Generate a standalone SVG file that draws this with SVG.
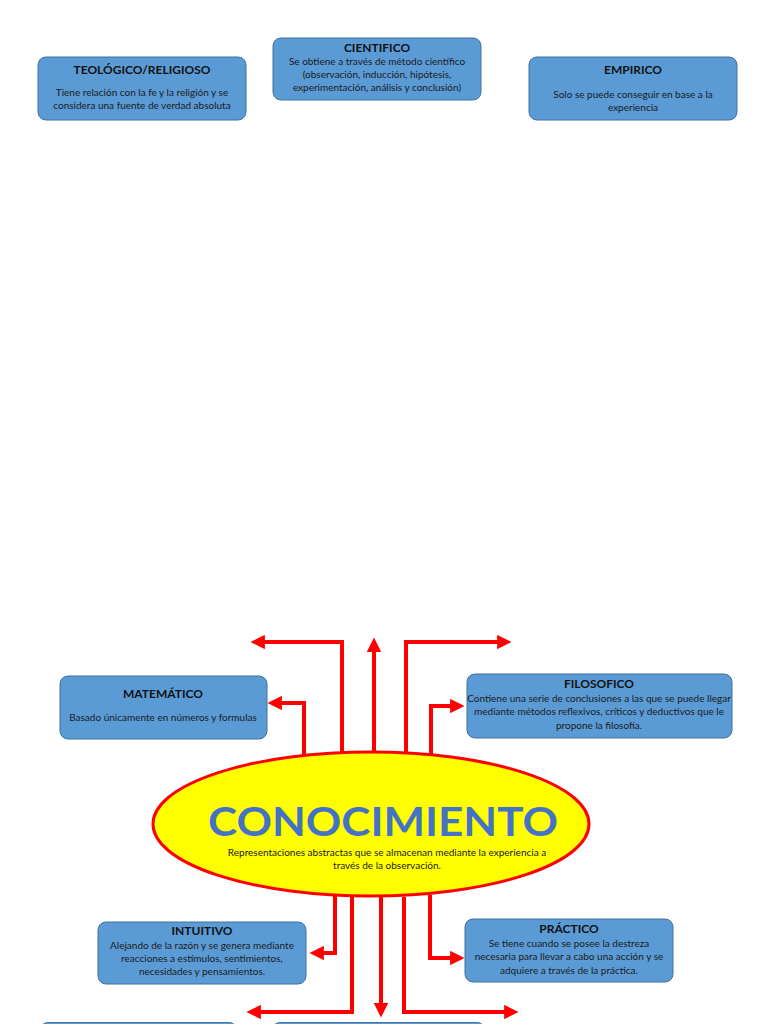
<svg xmlns="http://www.w3.org/2000/svg" width="768" height="1024" viewBox="0 0 768 1024">
<style>
.box{fill:#5b9bd5;stroke:#41719c;stroke-width:1}
.t{font-family:Lato,"Open Sans","Liberation Sans",sans-serif;font-weight:bold;font-size:12px;fill:#111;text-anchor:middle}
.b{font-family:Lato,"Open Sans","Liberation Sans",sans-serif;font-size:10px;fill:#1a1a1a;text-anchor:middle}
.c{fill:none;stroke:#ff0000;stroke-width:4;stroke-linejoin:miter}
</style>
<defs>
<marker id="ah" viewBox="0 0 10 10" refX="2" refY="5" markerWidth="3.6" markerHeight="3.6" orient="auto" markerUnits="strokeWidth">
<path d="M0,0 L10,5 L0,10 z" fill="#ff0000"/>
</marker>
</defs>
<rect width="768" height="1024" fill="#fff"/>

<g id="connectors">
<path class="c" d="M342,752 V642 H262" marker-end="url(#ah)"/>
<path class="c" d="M374,752 V649" marker-end="url(#ah)"/>
<path class="c" d="M406,752 V642 H500" marker-end="url(#ah)"/>
<path class="c" d="M304,758 V703 H279" marker-end="url(#ah)"/>
<path class="c" d="M431,756 V706 H453" marker-end="url(#ah)"/>
<path class="c" d="M335,895 V953 H321" marker-end="url(#ah)"/>
<path class="c" d="M352,896 V1012 H258" marker-end="url(#ah)"/>
<path class="c" d="M381,897 V1006" marker-end="url(#ah)"/>
<path class="c" d="M404,897 V1012 H507" marker-end="url(#ah)"/>
<path class="c" d="M430,895 V958 H453" marker-end="url(#ah)"/>
</g>

<g id="teologico">
<rect class="box" x="38" y="57" width="208" height="63" rx="8"/>
<text class="t" x="142" y="74">TEOLÓGICO/RELIGIOSO</text>
<text class="b" x="142" y="96">Tiene relación con la fe y la religión y se</text>
<text class="b" x="142" y="109">considera una fuente de verdad absoluta</text>
</g>

<g id="cientifico">
<rect class="box" x="273" y="38" width="208" height="62" rx="8"/>
<text class="t" x="377" y="52">CIENTIFICO</text>
<text class="b" x="377" y="65">Se obtiene a través de método científico</text>
<text class="b" x="377" y="78">(observación, inducción, hipótesis,</text>
<text class="b" x="377" y="91">experimentación, análisis y conclusión)</text>
</g>

<g id="empirico">
<rect class="box" x="529" y="57" width="208" height="63" rx="8"/>
<text class="t" x="633" y="74">EMPIRICO</text>
<text class="b" x="633" y="98">Solo se puede conseguir en base a la</text>
<text class="b" x="633" y="111">experiencia</text>
</g>

<g id="matematico">
<rect class="box" x="60" y="676" width="207" height="63" rx="8"/>
<text class="t" x="163" y="698">MATEMÁTICO</text>
<text class="b" x="163" y="721">Basado únicamente en números y formulas</text>
</g>

<g id="filosofico">
<rect class="box" x="467" y="674" width="265" height="64" rx="8"/>
<text class="t" x="599" y="688">FILOSOFICO</text>
<text class="b" x="599" y="702">Contiene una serie de conclusiones a las que se puede llegar</text>
<text class="b" x="599" y="715">mediante métodos reflexivos, críticos y deductivos que le</text>
<text class="b" x="599" y="729">propone la filosofía.</text>
</g>

<g id="conocimiento">
<ellipse cx="371" cy="824" rx="218" ry="72" fill="#ffff00" stroke="#ff0000" stroke-width="3"/>
<text x="383" y="836" font-family="Lato,'Open Sans','Liberation Sans',sans-serif" font-weight="bold" font-size="40" fill="#4472c4" text-anchor="middle" textLength="350" lengthAdjust="spacingAndGlyphs">CONOCIMIENTO</text>
<text class="b" x="387" y="856">Representaciones abstractas que se almacenan mediante la experiencia a</text>
<text class="b" x="387" y="869">través de la observación.</text>
</g>

<g id="intuitivo">
<rect class="box" x="98" y="922" width="208" height="62" rx="8"/>
<text class="t" x="202" y="935">INTUITIVO</text>
<text class="b" x="202" y="949">Alejando de la razón y se genera mediante</text>
<text class="b" x="202" y="962">reacciones a estímulos, sentimientos,</text>
<text class="b" x="202" y="975">necesidades y pensamientos.</text>
</g>

<g id="practico">
<rect class="box" x="465" y="919" width="208" height="63" rx="8"/>
<text class="t" x="569" y="933">PRÁCTICO</text>
<text class="b" x="569" y="947">Se tiene cuando se posee la destreza</text>
<text class="b" x="569" y="960">necesaria para llevar a cabo una acción y se</text>
<text class="b" x="569" y="974">adquiere a través de la práctica.</text>
</g>

<g id="bottom-left">
<rect class="box" x="40" y="1022.5" width="197" height="60" rx="8"/>
</g>
<g id="bottom-mid">
<rect class="box" x="272" y="1022.5" width="213" height="60" rx="8"/>
</g>
</svg>
